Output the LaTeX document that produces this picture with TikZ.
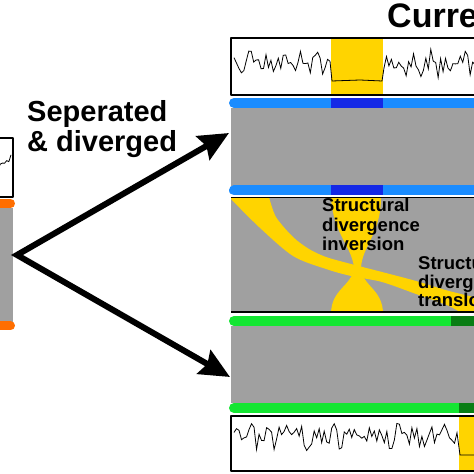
\documentclass[tikz,border=0pt]{standalone}
\usepackage{fontspec}
\setmainfont{Liberation Sans}
\usetikzlibrary{arrows.meta}
\definecolor{gap}{HTML}{A0A0A0}
\definecolor{gold}{HTML}{FFD400}
\definecolor{skyb}{HTML}{1A8CFF}
\definecolor{deepb}{HTML}{1428E6}
\definecolor{limeg}{HTML}{14E632}
\definecolor{darkg}{HTML}{0A7D14}
\definecolor{orng}{HTML}{FF6E00}
\begin{document}
\begin{tikzpicture}[x=1pt,y=1pt,font=\bfseries,line join=round,
  sig/.style={draw=black,line width=1.4pt,fill=white},
  trace/.style={line width=0.8pt,line join=miter},
  bar/.style={line width=10pt,line cap=round},
  lab/.style={anchor=base west,inner sep=0pt,align=left}]
\useasboundingbox (0,0) rectangle (474,474);
\clip (0,0) rectangle (474,474);
\pgfmathsetseed{11}
% top signal
\draw[sig] (231,379) rectangle (490,436);
\fill[gold] (331,380) rectangle (383,435);
\draw[trace] plot[domain=234:330,samples=40] (\x,{411+5*sin(22*(\x-230))+10*rand}) -- (332,393) -- (360,394) -- (382,393)
  -- plot[domain=384:480,samples=40] (\x,{411+5*sin(22*(\x-230))+10*rand});
% blue pair
\fill[gap] (231,288) rectangle (490,366);
\foreach \y in {371,283.5}{
  \draw[bar,skyb] (234,\y) -- (490,\y);
  \draw[bar,deepb,line cap=butt] (331,\y) -- (383,\y);
}
% rearranged panel
\begin{scope}
\clip (231,162) rectangle (490,276);
\fill[gap] (231,162) rectangle (490,276);
\fill[gold] plot[smooth] coordinates {(269,277) (276,257) (293,237) (309,225) (326,217) (351,210) (382,202) (416,193) (449,183) (490,173)}
  -- (490,158) -- plot[smooth] coordinates {(466,158) (449,168) (416,180) (382,192) (351,198) (326,205) (293,218) (259,247) (229,277)} -- cycle;
\fill[gold] (331,277) .. controls (333,240) and (352,228) .. (354,206) .. controls (352,188) and (331,185) .. (331,160)
  -- (383,160) .. controls (383,185) and (362,188) .. (361,206) .. controls (362,228) and (381,240) .. (381,277) -- cycle;
\end{scope}
\draw[line width=1.2pt] (231,276.5) -- (490,276.5) (231,162) -- (490,162);
\node[lab,font=\bfseries\fontsize{18.5}{19.5}\selectfont] (inv) at (322,223) {Structural\\divergence\\inversion};
\node[lab,font=\bfseries\fontsize{18.5}{18.5}\selectfont] (trans) at (418,167) {Structural\\divergence\\translocation};
% green pair
\fill[gap] (231,71) rectangle (490,148);
\draw[bar,limeg] (234,153) -- (490,153);
\draw[bar,darkg,line cap=butt] (451,153) -- (490,153);
\draw[bar,limeg] (234,66) -- (490,66);
\draw[bar,darkg,line cap=butt] (459,66) -- (490,66);
% bottom signal
\draw[sig] (231,3) rectangle (490,58);
\fill[gold] (459,4) rectangle (490,57);
\draw[trace] plot[domain=234:457,samples=90] (\x,{38+5*sin(22*(\x-230))+10*rand}) -- (460,19) -- (490,19);
% ancestor
\draw[sig] (-5,277) rectangle (13,336);
\draw[trace] plot[domain=-4:11,samples=8] (\x,{312+4*sin(40*\x)+10*rand});
\fill[gap] (0,152) rectangle (13,266);
\draw[bar,orng,line width=9pt] (-5,270.5) -- (10.5,270.5);
\draw[bar,orng,line width=9pt] (-5,148) -- (10.5,148);
% split
\coordinate (split) at (17,219);
\coordinate (up) at (229,341);
\coordinate (dn) at (230,97);
\draw[line width=6pt,line join=miter,{Stealth[length=30pt,width=27pt,inset=4pt]}-{Stealth[length=30pt,width=27pt,inset=4pt]}] (up) -- (split) -- (dn);
\node[lab,font=\bfseries\fontsize{29}{30}\selectfont] (sep) at (27,322) {Seperated\\\& diverged};
\node[lab,font=\bfseries\fontsize{34}{40}\selectfont] (title) at (387,446) {Current};
\end{tikzpicture}
\end{document}
